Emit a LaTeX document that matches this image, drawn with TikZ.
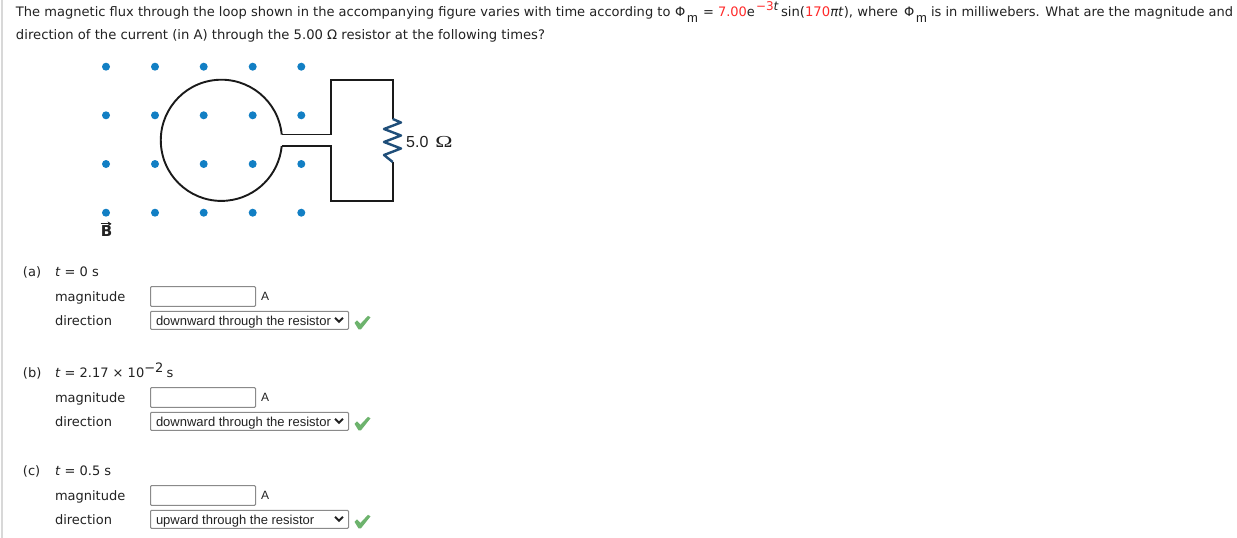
\documentclass[tikz,border=0pt]{standalone}
\usepackage{fontspec}
\usepackage{graphicx}
\setmainfont{DejaVu Sans}
\newfontfamily\selfont{Liberation Sans}
\newfontfamily\serfont{Liberation Serif}
\usetikzlibrary{arrows.meta}
\definecolor{ink}{HTML}{222222}
\definecolor{qred}{HTML}{FF2A2A}
\definecolor{dotblue}{HTML}{127FC4}
\definecolor{resblue}{HTML}{1F4E79}
\definecolor{wire}{HTML}{1A1A1A}
\definecolor{boxgray}{HTML}{8A8A8A}
\definecolor{sidegray}{HTML}{D8D8D8}
\definecolor{okgreen}{HTML}{6DB36D}
\newcommand{\sizedq}{\fontsize{13}{15}\selectfont}
\tikzset{
  txt/.style={inner sep=0pt,outer sep=0pt,anchor=base west,text=ink,font=\sizedq},
  seltxt/.style={inner sep=0pt,outer sep=0pt,anchor=base west,text=ink,font=\selfont\fontsize{13}{15}\selectfont},
  amptxt/.style={inner sep=0pt,outer sep=0pt,anchor=base west,text=ink,font=\selfont\fontsize{12}{14}\selectfont},
  subtxt/.style={inner sep=0pt,outer sep=0pt,anchor=base west,text=ink,font=\selfont\fontsize{13}{15}\selectfont},
  dotb/.style={circle,fill=dotblue,draw=none,minimum size=8pt,inner sep=0pt},
  wirep/.style={draw=wire,line width=1.9pt,line join=miter},
  inbox/.style={draw=boxgray,line width=1pt,fill=white,rounded corners=1pt},
}
\newcommand{\formgroup}[8]{%
  \node[txt] (lab#1) at (23,#4) {(#2)};
  \node[txt] (time#1) at (55,#4) {#3};
  \node[txt] (mag#1) at (55,#5) {magnitude};
  \node[txt] (dir#1) at (55,#6) {direction};
  \draw[inbox] (150.5,#8-24.7) rectangle (255.5,#8-5);
  \node[amptxt] (amp#1) at (261,#8-10.5) {A};
  \draw[inbox] (150.5,#8) rectangle (348.5,#8+18);
  \node[seltxt] (sel#1) at (156,#8+14) {#7};
  \draw[line width=1.9pt,draw=ink] (335,#8+6.5) -- (339,#8+10.5) -- (343,#8+6.5);
  \fill[okgreen] (354.5,#8+11.5) -- (357,#8+9) -- (360.5,#8+12.5) -- (368,#8+4.5) -- (370.5,#8+6) -- (361,#8+18) -- (358.5,#8+18) -- cycle;
}
\begin{document}
\begin{tikzpicture}[x=1pt,y=-1pt]
\useasboundingbox (0,0) rectangle (1237,538);
\fill[white] (0,0) rectangle (1237,538);
\fill[sidegray] (1,0) rectangle (2.5,538);
% question
\node[txt,font=\fontsize{13.04}{15}\selectfont] (q1) at (16,16.5) {The magnetic flux through the loop shown in the accompanying figure varies with time according to};
\node[txt] (phi1) at (675,16.5) {Φ};
\node[subtxt] (m1) at (687,22) {m};
\node[txt] (eq) at (703,16.5) {= \textcolor{qred}{7.00}e};
\node[txt,font=\fontsize{12}{12}\selectfont] (exp) at (756,10) {\textcolor{qred}{−3}\textit{t}};
\node[txt,font=\fontsize{13.2}{15}\selectfont] (sin) at (781,16.5) {sin(\textcolor{qred}{170}\textit{πt}), where};
\node[txt] (phi2) at (904,16.5) {Φ};
\node[subtxt] (m2) at (916,22) {m};
\node[txt] (q1b) at (931,16.5) {is in milliwebers. What are the magnitude and};
\node[txt,font=\fontsize{13.17}{15}\selectfont] (q2) at (16,39) {direction of the current (in A) through the 5.00 Ω resistor at the following times?};
% dots
\foreach \i/\x in {1/106,2/155,3/203.7,4/252.7,5/301.3}
  \foreach \j/\y in {1/66.7,2/115.3,3/164,4/212.7}
    \node[dotb] (d\i\j) at (\x,\y) {};
\node[inner sep=0pt,anchor=base,text=ink] (bvec) at (106.5,236.5) {\fontsize{15}{15}\selectfont\bfseries B};
\draw[line width=1pt,draw=ink,-{Stealth[length=4pt,width=5pt]}] (bvec.north west) ++(0,-1.5) -- ++(11,0);
% circuit
\coordinate (mu) at (281.7,134.5);
\coordinate (ml) at (281.7,146);
\coordinate (tl) at (330.7,80);
\coordinate (tr) at (392.7,80);
\coordinate (rt) at (392.7,119);
\coordinate (rb) at (392.7,162);
\coordinate (br) at (392.7,200.7);
\coordinate (bl) at (330.7,200.7);
\draw[wirep] (mu) arc[start angle=-5.5,delta angle=-349,radius=60.6];
\draw[wirep] (mu) -- (330.7,134.5) -- (tl) -- (tr) -- (rt);
\draw[wirep] (ml) -- (330.7,146) -- (bl) -- (br) -- (rb);
\draw[draw=resblue,line width=2.4pt,line join=round] (rt) -- (401,122.5) -- (384,129) -- (401,135.5) -- (384,142) -- (401,148.5) -- (384,155) -- (rb);
\node[inner sep=0pt,anchor=base west,text=ink] (rlab) at (406,147) {\selfont\fontsize{16}{16}\selectfont 5.0\hspace{7pt}\serfont\scalebox{1.45}[1.05]{Ω}};
% form
\formgroup{a}{a}{\textit{t} = 0 s}{276}{301.5}{325}{downward through the resistor}{311.3}
\formgroup{b}{b}{\textit{t} = 2.17 × 10\raisebox{5pt}{\fontsize{13}{13}\selectfont −2}\hspace{-1pt} s}{377}{402.5}{426}{downward through the resistor}{412.3}
\formgroup{c}{c}{\textit{t} = 0.5 s}{475}{500.5}{524}{upward through the resistor}{510.3}
\end{tikzpicture}
\end{document}
